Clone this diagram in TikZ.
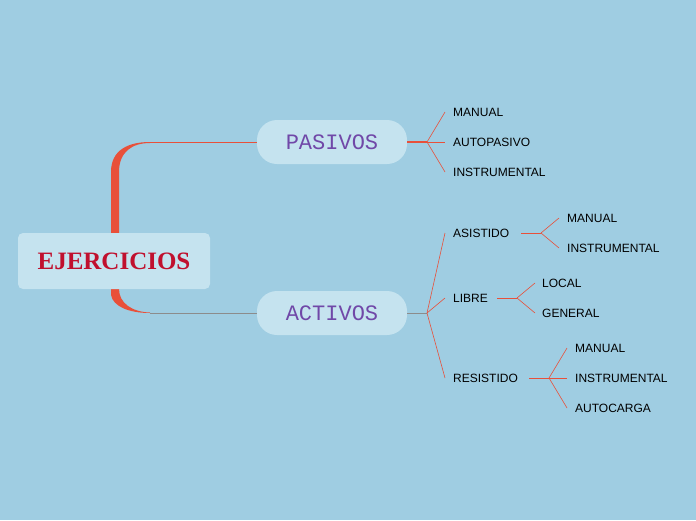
\documentclass[tikz,border=0pt]{standalone}
\usepackage{fontspec}
\setmainfont{Liberation Sans}
\newfontfamily\serifb{Liberation Serif}
\newfontfamily\monof{Liberation Mono}
\definecolor{bg}{HTML}{9FCDE2}
\definecolor{nodefill}{HTML}{C5E3EF}
\definecolor{lnred}{HTML}{E8503A}
\definecolor{ttl}{HTML}{C0102E}
\definecolor{purp}{HTML}{7048A8}
\begin{document}
\begin{tikzpicture}[x=1pt,y=-1pt,
 lbl/.style={anchor=west,inner sep=0pt,font=\fontsize{12}{13}\selectfont},
 br/.style={draw=lnred,line width=0.6pt},
 sub/.style={fill=nodefill,rounded corners=20pt,minimum width=150pt,minimum height=44pt,text=purp,font=\monof\fontsize{22}{24}\selectfont}]
\fill[bg] (0,0) rectangle (696,520);
\useasboundingbox (0,0) rectangle (696,520);
\fill[lnred] (111,233) -- (111,172) .. controls (111,150) and (128,142) .. (150,142) -- (150,143) .. controls (132,143) and (119,152) .. (119,172) -- (119,233) -- cycle;
\fill[lnred] (111,289) -- (111,295) .. controls (113,306) and (128,313) .. (150,313) -- (150,312.5) .. controls (132,312) and (119,303) .. (119,289) -- cycle;
\node[fill=nodefill,rounded corners=5pt,minimum width=192pt,minimum height=56pt,text=ttl,font=\serifb\bfseries\fontsize{25}{27}\selectfont] (main) at (114,261) {EJERCICIOS};
\node[sub] (pas) at (332,142) {PASIVOS};
\node[sub] (act) at (332,313) {ACTIVOS};
\coordinate (c1) at (150,142); \coordinate (c2) at (150,313);
\draw[lnred,line width=0.6pt] (c1) -- (pas.west);
\draw[black!45,line width=0.6pt] (c2) -- (act.west);
% PASIVOS
\coordinate (p0) at (427,142);
\draw[lnred,line width=1.5pt] (pas.east) -- (p0);
\node[lbl] (p1) at (453,112) {MANUAL};
\node[lbl] (p2) at (453,142) {AUTOPASIVO};
\node[lbl] (p3) at (453,172) {INSTRUMENTAL};
\foreach \y in {112,142,172} \draw[br] (p0) -- (445,\y);
% ACTIVOS
\coordinate (a0) at (427,313);
\draw[black!45,line width=0.6pt] (act.east) -- (a0);
\node[lbl] (a1) at (453,233) {ASISTIDO};
\node[lbl] (a2) at (453,298) {LIBRE};
\node[lbl] (a3) at (453,378) {RESISTIDO};
\foreach \y in {233,298,378} \draw[br] (a0) -- (445,\y);
% ASISTIDO
\draw[br] (521,233) -- (541,233);
\foreach \y in {218,248} \draw[br] (541,233) -- (559,\y);
\node[lbl] at (567,218) {MANUAL};
\node[lbl] at (567,248) {INSTRUMENTAL};
% LIBRE
\draw[br] (497,298) -- (517,298);
\foreach \y in {283,313} \draw[br] (517,298) -- (535,\y);
\node[lbl] at (542,283) {LOCAL};
\node[lbl] at (542,313) {GENERAL};
% RESISTIDO
\draw[br] (529,378) -- (549,378);
\foreach \y in {348,378,408} \draw[br] (549,378) -- (567,\y);
\node[lbl] at (575,348) {MANUAL};
\node[lbl] at (575,378) {INSTRUMENTAL};
\node[lbl] at (575,408) {AUTOCARGA};
\end{tikzpicture}
\end{document}
